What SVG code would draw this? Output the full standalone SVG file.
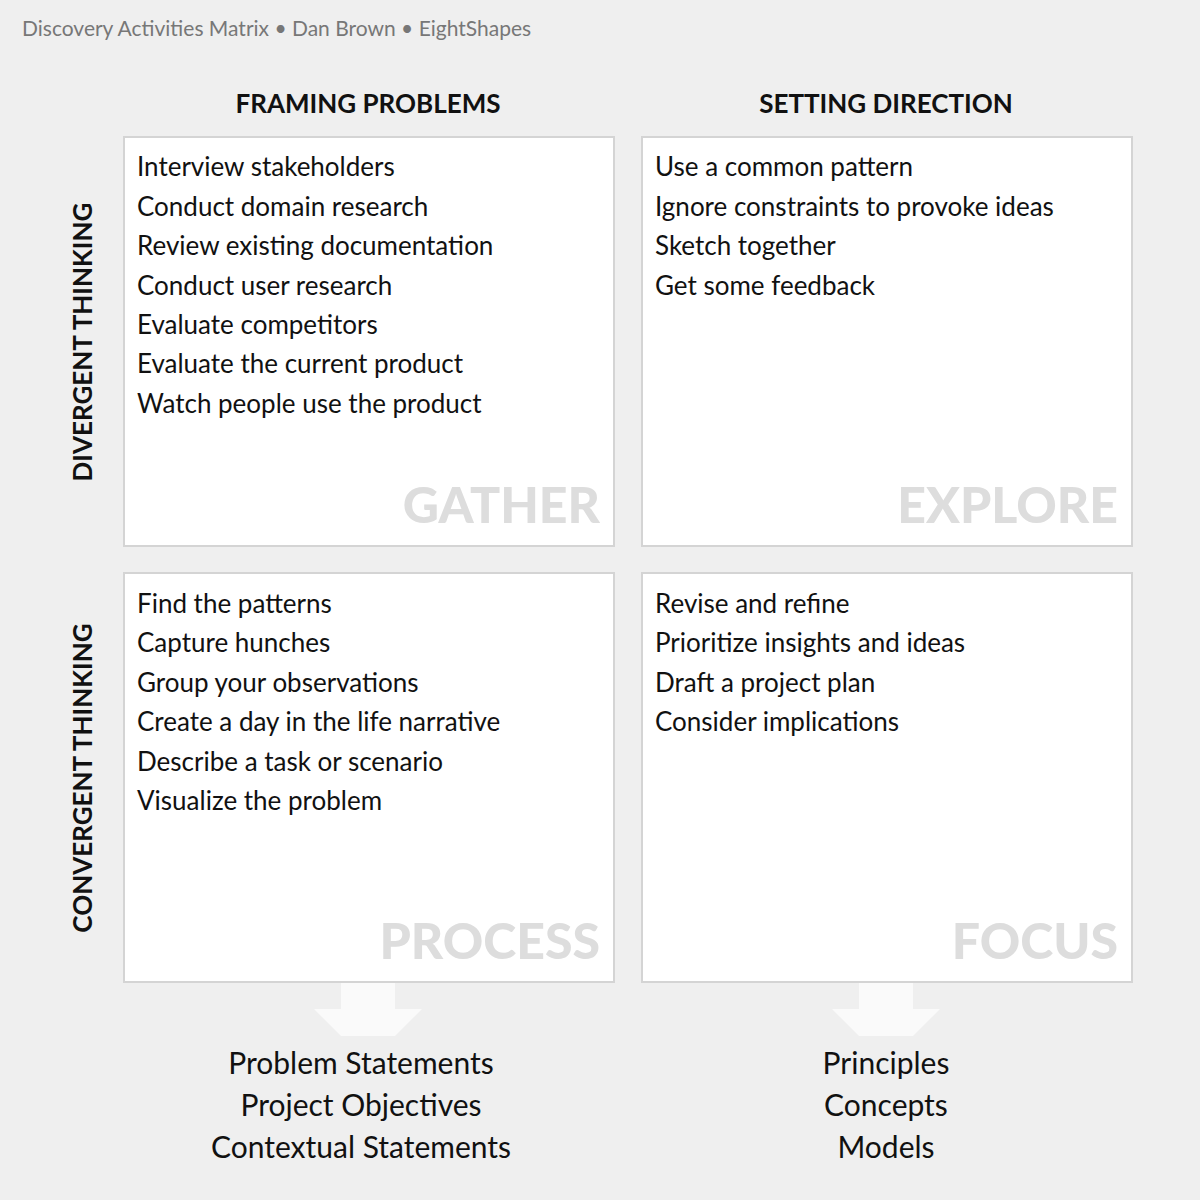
<svg xmlns="http://www.w3.org/2000/svg" width="1200" height="1200" viewBox="0 0 1200 1200">
<style>
text{font-family:Lato,"Open Sans",sans-serif}
.box{fill:#fff;stroke:#d4d4d4;stroke-width:2}
.it{font-size:26px;fill:#111}
.hd{font-size:26px;font-weight:bold;fill:#111}
.big{font-size:50px;font-weight:900;fill:#ddd;text-anchor:end}
.out{font-size:30px;fill:#111;text-anchor:middle}
.arr{fill:#fafafa}
</style>
<rect width="1200" height="1200" fill="#efefef"/>
<text x="22" y="36" font-size="21" fill="#777">Discovery Activities Matrix • Dan Brown • EightShapes</text>
<text class="hd" x="368" y="113" text-anchor="middle">FRAMING PROBLEMS</text>
<text class="hd" x="886" y="113" text-anchor="middle">SETTING DIRECTION</text>
<text class="hd" transform="translate(92 342) rotate(-90)" text-anchor="middle">DIVERGENT THINKING</text>
<text class="hd" transform="translate(92 778) rotate(-90)" text-anchor="middle">CONVERGENT THINKING</text>
<g id="gather"><rect class="box" x="124" y="137" width="490" height="409"/>
<text class="it" x="137" y="176">Interview stakeholders</text>
<text class="it" x="137" y="216">Conduct domain research</text>
<text class="it" x="137" y="255">Review existing documentation</text>
<text class="it" x="137" y="295">Conduct user research</text>
<text class="it" x="137" y="334">Evaluate competitors</text>
<text class="it" x="137" y="373">Evaluate the current product</text>
<text class="it" x="137" y="413">Watch people use the product</text>
<text class="big" x="600" y="523">GATHER</text></g>
<g id="explore"><rect class="box" x="642" y="137" width="490" height="409"/>
<text class="it" x="655" y="176">Use a common pattern</text>
<text class="it" x="655" y="216">Ignore constraints to provoke ideas</text>
<text class="it" x="655" y="255">Sketch together</text>
<text class="it" x="655" y="295">Get some feedback</text>
<text class="big" x="1118" y="523">EXPLORE</text></g>
<g id="process"><rect class="box" x="124" y="573" width="490" height="409"/>
<text class="it" x="137" y="613">Find the patterns</text>
<text class="it" x="137" y="652">Capture hunches</text>
<text class="it" x="137" y="692">Group your observations</text>
<text class="it" x="137" y="731">Create a day in the life narrative</text>
<text class="it" x="137" y="771">Describe a task or scenario</text>
<text class="it" x="137" y="810">Visualize the problem</text>
<text class="big" x="600" y="959">PROCESS</text></g>
<g id="focus"><rect class="box" x="642" y="573" width="490" height="409"/>
<text class="it" x="655" y="613">Revise and refine</text>
<text class="it" x="655" y="652">Prioritize insights and ideas</text>
<text class="it" x="655" y="692">Draft a project plan</text>
<text class="it" x="655" y="731">Consider implications</text>
<text class="big" x="1118" y="959">FOCUS</text></g>
<g id="connectors">
<polygon class="arr" points="341,983 395,983 395,1009 422,1009 395,1036 341,1036 314,1009 341,1009"/>
<polygon class="arr" points="859,983 913,983 913,1009 940,1009 913,1036 859,1036 832,1009 859,1009"/>
</g>
<g id="out1"><text class="out" x="361" y="1074">Problem Statements</text>
<text class="out" x="361" y="1116">Project Objectives</text>
<text class="out" x="361" y="1158">Contextual Statements</text></g>
<g id="out2"><text class="out" x="886" y="1074">Principles</text>
<text class="out" x="886" y="1116">Concepts</text>
<text class="out" x="886" y="1158">Models</text></g>
</svg>
